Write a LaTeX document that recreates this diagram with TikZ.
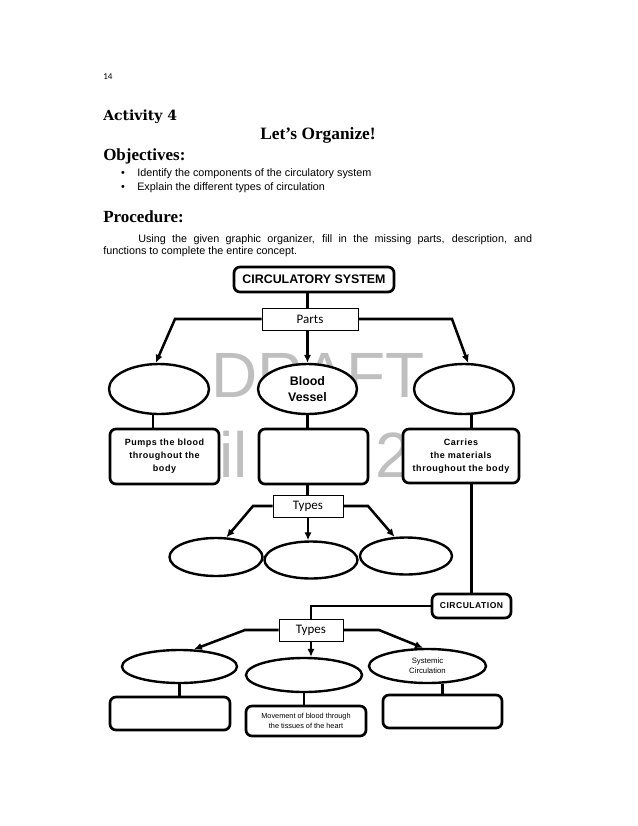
\documentclass[tikz,border=0pt]{standalone}
\usepackage{fontspec}
\setmainfont{Liberation Sans}
\newfontfamily\serifh{Liberation Serif}
\newfontfamily\actfont{DejaVu Serif}
\newfontfamily\calfont{Carlito}
\newfontfamily\spacedfont[LetterSpace=6]{Liberation Sans}
\usetikzlibrary{shapes.geometric,arrows.meta,calc}
\begin{document}
\begin{tikzpicture}[x=0.75pt,y=-0.75pt,
  conn/.style={line width=1.9pt},
  arr/.style={conn,-{Latex[length=6pt,width=5.5pt]}},
  bigbox/.style={draw,line width=2pt,rounded corners=4.5pt,fill=white,inner sep=0pt,align=center},
  oval/.style={draw,ellipse,line width=1.8pt,fill=white,inner sep=0pt,align=center},
  tagbox/.style={draw,line width=0.75pt,fill=white,inner sep=0pt,font=\calfont\fontsize{9.75pt}{11pt}\selectfont},
  plain/.style={inner sep=0pt},
  bodytext/.style={plain,font=\fontsize{8.1pt}{10pt}\selectfont},
  heading/.style={plain,font=\serifh\bfseries\fontsize{12.75pt}{15pt}\selectfont},
  boldbig/.style={font=\bfseries\fontsize{9.3pt}{12pt}\selectfont},
  spacedsmall/.style={font=\spacedfont\bfseries\fontsize{6.75pt}{9.75pt}\selectfont},
  watermark/.style={plain,text=black!25,font=\fontsize{48pt}{50pt}\selectfont},
]
\fill[white] (0,0) rectangle (638,826);
\useasboundingbox (0,0) rectangle (638,826);

% header
\node[plain,anchor=base west,font=\calfont\fontsize{6.75pt}{8pt}\selectfont] (pg) at (103,79) {14};
\node[plain,anchor=base west,font=\actfont\bfseries\fontsize{10.5pt}{12pt}\selectfont] (act) at (103,120) {Activity 4};
\node[plain,anchor=base,font=\serifh\bfseries\fontsize{13pt}{15pt}\selectfont] (title) at (318,139.5) {Let’s Organize!};
\node[heading,anchor=base west] (obj) at (103,160.7) {Objectives:};
\node[bodytext,anchor=base] (bul1) at (123,176.7) {•};
\node[bodytext,anchor=base west] (obj1) at (137,176.7) {Identify the components of the circulatory system};
\node[bodytext,anchor=base] (bul2) at (123,190) {•};
\node[bodytext,anchor=base west] (obj2) at (137,190) {Explain the different types of circulation};
\node[heading,anchor=base west] (proc) at (103,222.7) {Procedure:};
\node[bodytext,anchor=base west] (par1) at (138,242.3) {\makebox[295.5pt][s]{Using the given graphic organizer, fill in the missing parts, description, and}};
\node[bodytext,anchor=base west] (par2) at (103,254) {functions to complete the entire concept.};

% watermark (visible pieces)
\node[watermark,anchor=base] (wm1) at (318,397) {DRAFT};
\node[watermark,anchor=base west] (wm2) at (219,477) {il};
\node[watermark,anchor=base west] (wm3) at (375,477) {2};

% nodes
\node[bigbox,minimum width=120pt,minimum height=18.75pt,boldbig] (cs) at (314,279.5) {CIRCULATORY SYSTEM};
\node[tagbox,minimum width=72pt,minimum height=16.5pt] (parts) at (310,319) {Parts};

\node[oval,minimum width=75pt,minimum height=37.5pt] (e1) at (159,389) {};
\node[oval,minimum width=74.25pt,minimum height=37.5pt,boldbig] (e2) at (307.5,389) {Blood\\Vessel};
\node[oval,minimum width=75pt,minimum height=37.5pt] (e3) at (464,389) {};

\node[bigbox,minimum width=81.75pt,minimum height=41.25pt,spacedsmall] (b1) at (164.5,456.5) {Pumps the blood\\throughout the\\body};
\node[bigbox,minimum width=81.75pt,minimum height=41.25pt] (b2) at (313.5,456.5) {};
\node[bigbox,minimum width=87pt,minimum height=40.5pt,spacedsmall] (b3) at (461,456) {Carries\\the materials\\throughout the body};

\node[tagbox,minimum width=52.5pt,minimum height=16.5pt] (t1) at (308,506) {Types};

\node[oval,minimum width=69.75pt,minimum height=28.5pt] (f1) at (216,557) {};
\node[oval,minimum width=69.75pt,minimum height=27.75pt] (f2) at (311,560) {};
\node[oval,minimum width=69pt,minimum height=27.75pt] (f3) at (406,556) {};

\node[bigbox,minimum width=59.25pt,minimum height=18pt,font=\spacedfont\bfseries\fontsize{6.4pt}{8pt}\selectfont] (circ) at (471.5,606) {CIRCULATION};
\node[tagbox,minimum width=48pt,minimum height=16.5pt] (t2) at (311,630) {Types};

\node[oval,minimum width=86.25pt,minimum height=24.75pt] (g1) at (179.5,666.5) {};
\node[oval,minimum width=87pt,minimum height=25.5pt] (g2) at (304,675) {};
\node[oval,minimum width=87.75pt,minimum height=25.5pt,font=\fontsize{5.8pt}{7.5pt}\selectfont] (g3) at (427.5,666) {Systemic\\Circulation};

\node[bigbox,minimum width=90pt,minimum height=24.75pt] (h1) at (170,713.5) {};
\node[bigbox,minimum width=90pt,minimum height=22.5pt,font=\fontsize{5.5pt}{7.1pt}\selectfont] (h2) at (306,721) {Movement of blood through\\the tissues of the heart};
\node[bigbox,minimum width=89.25pt,minimum height=24.75pt] (h3) at (442.5,711.5) {};

% connectors
\coordinate (k1) at (175,319);
\coordinate (k2) at (452,319);
\coordinate (k3) at (253,506);
\coordinate (k4) at (368,506);
\coordinate (k5) at (245,630);
\coordinate (k6) at (379,630);
\coordinate (v1) at ($(e1.south)+(-6,0)$);

\draw[conn] (cs.south -| e2.center) -- (parts.north -| e2.center);
\draw[arr] (parts.west) -- (k1) -- (e1.97);
\draw[arr] (parts.east) -- (k2) -- (e3.81);
\draw[arr] (parts.south -| e2.north) -- (e2.north);

\draw[conn] (v1) -- (v1 |- b1.north);
\draw[conn] (e2.south) -- (e2.south |- b2.north);
\draw[conn] (circ.north |- e3.south) -- (circ.north |- b3.north);
\draw[conn] (circ.north |- b3.south) -- (circ.north);

\draw[conn] (b2.south -| e2.south) -- (t1.north -| e2.south);
\draw[arr] (t1.west) -- (k3) -- (f1.62);
\draw[arr] (t1.east) -- (k4) -- (f3.121);
\draw[arr] (t1.south) -- (t1.south |- f2.north);

\draw[conn] (circ.west) -| (t2.north);
\draw[arr] (t2.west) -- (k5) -- (g1.50);
\draw[arr] (t2.east) -- (k6) -- (g3.104);
\draw[arr] (t2.south) -- (t2.south |- g2.north);

\draw[conn] (g1.south) -- (g1.south |- h1.north);
\draw[conn] (g2.south) -- (g2.south |- h2.north);
\draw[conn] (h3.north |- g3.south) -- (h3.north);
\end{tikzpicture}
\end{document}
